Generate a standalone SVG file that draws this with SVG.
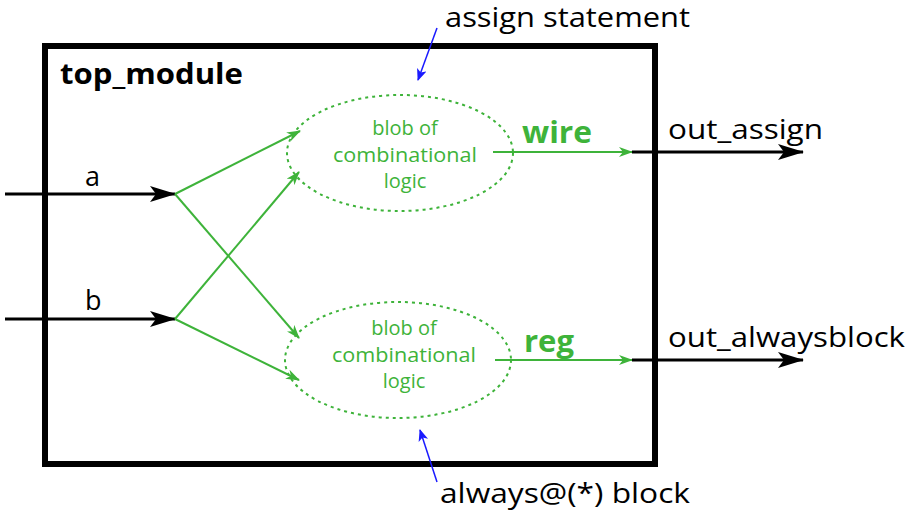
<svg xmlns="http://www.w3.org/2000/svg" width="910" height="515" viewBox="0 0 910 515">
<style>
text{font-family:"Open Sans","Noto Sans",sans-serif}
.g{stroke:#3eb33a;stroke-width:2;fill:none}
.k{stroke:#000;stroke-width:3;fill:none}
.b{stroke:#1a1aff;stroke-width:1.5;fill:none}
.blob{fill:#3eb33a;font-size:20px;text-anchor:middle}
</style>
<defs>
<marker id="ag" markerWidth="14" markerHeight="10" refX="13" refY="5" orient="auto" markerUnits="userSpaceOnUse"><path d="M0,0 L14,5 L0,10 L4,5z" fill="#3eb33a"/></marker>
<marker id="ak" markerWidth="26" markerHeight="16" refX="25" refY="8" orient="auto" markerUnits="userSpaceOnUse"><path d="M0,0 L26,8 L0,16 L6,8z" fill="#000"/></marker>
<marker id="ab" markerWidth="12" markerHeight="10" refX="11" refY="5" orient="auto" markerUnits="userSpaceOnUse"><path d="M0,0 L12,5 L0,10 L3,5z" fill="#1a1aff"/></marker>
</defs>
<g id="top_module"><rect x="45" y="46" width="610" height="418" fill="#fff" stroke="#000" stroke-width="6"/>
<text x="60" y="84" font-size="29" font-weight="bold" textLength="183" lengthAdjust="spacingAndGlyphs">top_module</text></g>
<g id="blob1"><ellipse cx="400" cy="153" rx="113" ry="58" class="g" stroke-dasharray="3,4"/>
<text class="blob" x="405" y="135">blob of</text><text class="blob" x="405" y="162" textLength="144" lengthAdjust="spacingAndGlyphs">combinational</text><text class="blob" x="405" y="188">logic</text></g>
<g id="blob2"><ellipse cx="398" cy="360" rx="113" ry="58" class="g" stroke-dasharray="3,4"/>
<text class="blob" x="404" y="335">blob of</text><text class="blob" x="404" y="362" textLength="144" lengthAdjust="spacingAndGlyphs">combinational</text><text class="blob" x="404" y="388">logic</text></g>
<g id="connectors">
<line class="k" x1="5" y1="194" x2="175" y2="194" marker-end="url(#ak)"/>
<line class="k" x1="5" y1="319" x2="175" y2="319" marker-end="url(#ak)"/>
<line class="g" x1="175" y1="194" x2="300" y2="131" marker-end="url(#ag)"/>
<line class="g" x1="175" y1="194" x2="299" y2="338" marker-end="url(#ag)"/>
<line class="g" x1="175" y1="319" x2="299" y2="172" marker-end="url(#ag)"/>
<line class="g" x1="175" y1="319" x2="299" y2="380" marker-end="url(#ag)"/>
<line class="g" x1="493" y1="152" x2="632" y2="152" marker-end="url(#ag)"/>
<line class="g" x1="495" y1="360" x2="632" y2="360" marker-end="url(#ag)"/>
<line class="k" x1="632" y1="152" x2="803" y2="152" marker-end="url(#ak)"/>
<line class="k" x1="632" y1="360" x2="803" y2="360" marker-end="url(#ak)"/>
<line class="b" x1="437" y1="28" x2="418" y2="80" marker-end="url(#ab)"/>
<line class="b" x1="437" y1="482" x2="420" y2="430" marker-end="url(#ab)"/>
</g>
<g id="labels">
<text x="85" y="186" font-size="27">a</text>
<text x="85" y="310" font-size="27">b</text>
<text x="522" y="143" font-size="30" font-weight="bold" fill="#3eb33a" textLength="70" lengthAdjust="spacingAndGlyphs">wire</text>
<text x="524" y="352" font-size="30" font-weight="bold" fill="#3eb33a" textLength="50" lengthAdjust="spacingAndGlyphs">reg</text>
<text x="668" y="139" font-size="28" textLength="155" lengthAdjust="spacingAndGlyphs">out_assign</text>
<text x="668" y="347" font-size="28" textLength="237" lengthAdjust="spacingAndGlyphs">out_alwaysblock</text>
<text x="445" y="27" font-size="28" textLength="245" lengthAdjust="spacingAndGlyphs">assign statement</text>
<text x="440" y="503" font-size="28" textLength="250" lengthAdjust="spacingAndGlyphs">always@(*) block</text>
</g>
</svg>
